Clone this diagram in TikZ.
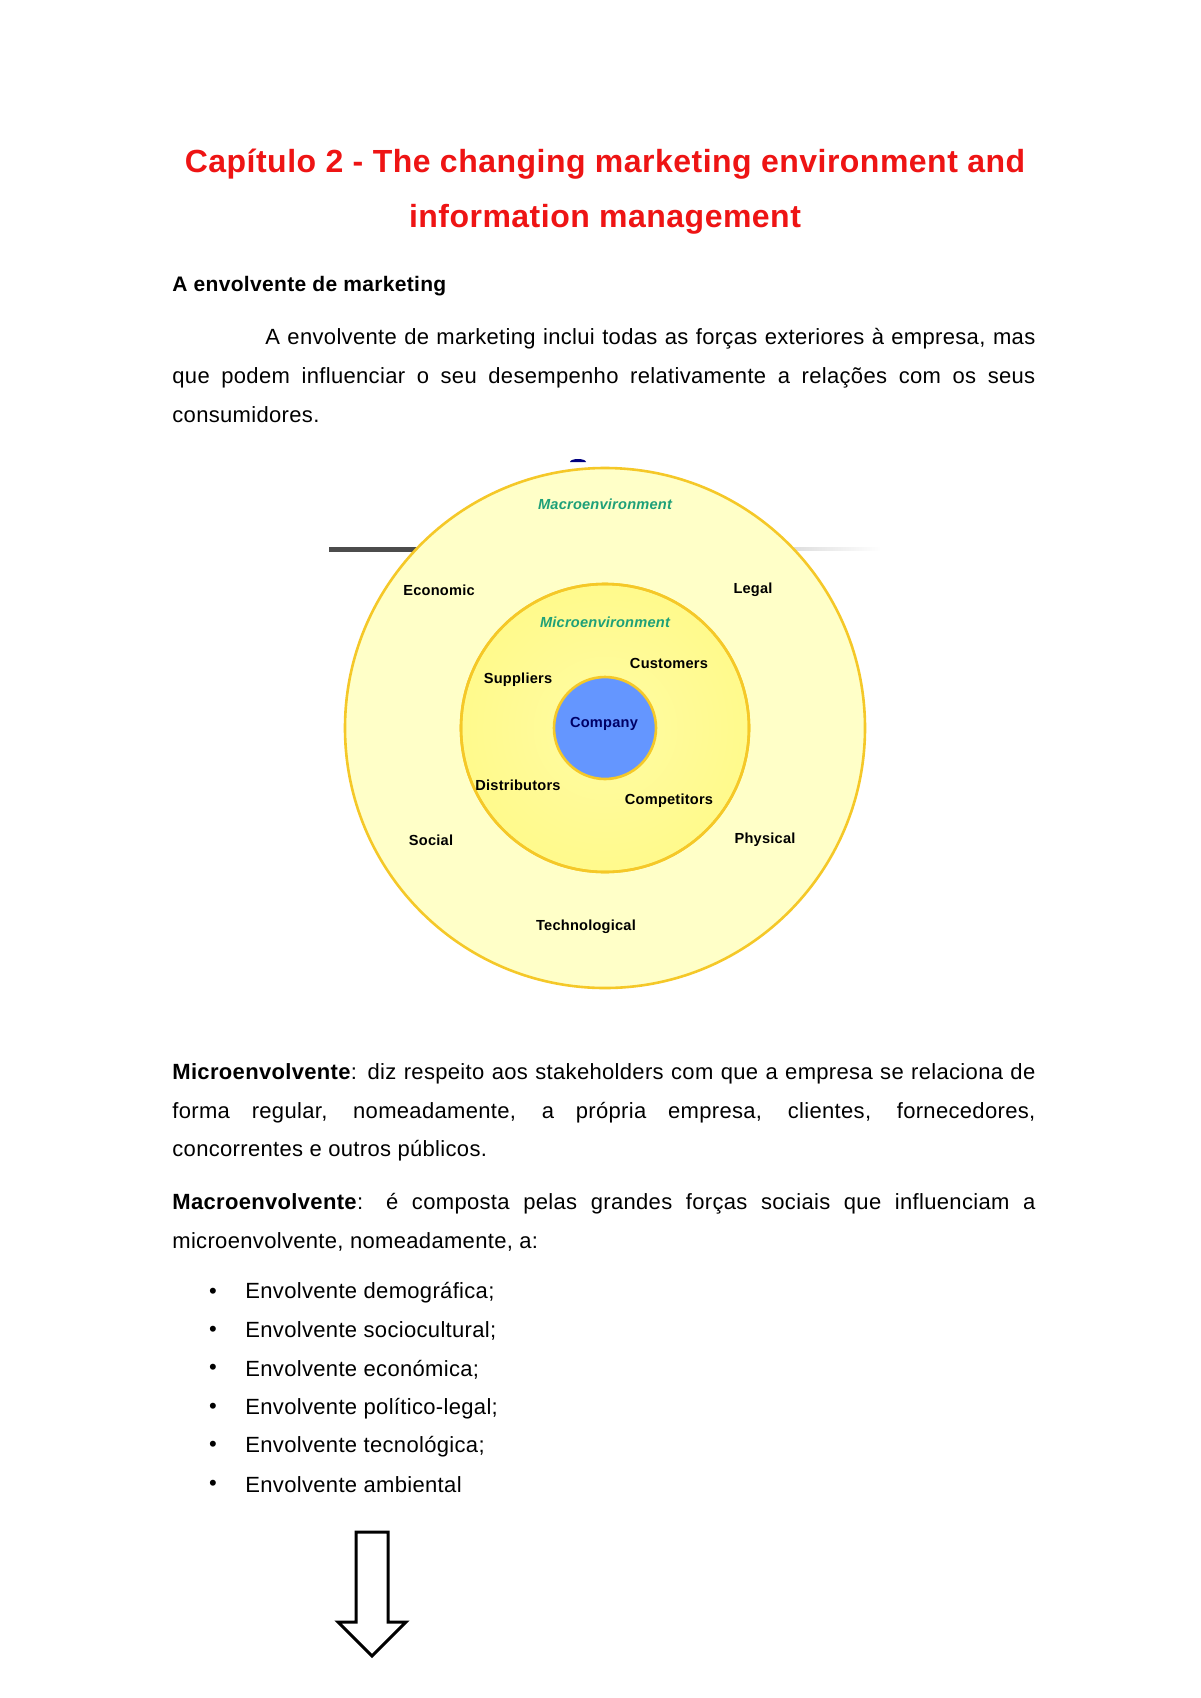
\documentclass[tikz,border=0pt]{standalone}
\usepackage{fontspec}
\setmainfont{Liberation Sans}[LetterSpace=1.5]
\usetikzlibrary{shadings}
\definecolor{titred}{RGB}{238,20,20}
\definecolor{ring}{RGB}{245,200,40}
\definecolor{outerf}{RGB}{255,255,200}
\definecolor{innerf}{RGB}{255,250,140}
\definecolor{comp}{RGB}{100,150,255}
\definecolor{envgreen}{RGB}{30,160,120}
\hyphenpenalty=10000
\exhyphenpenalty=10000
\begin{document}
\begin{tikzpicture}[x=0.5pt,y=-0.5pt,
  body/.style={anchor=north west,inner sep=0pt,font=\fontsize{11}{19.4}\selectfont,align=justify,text width=431.5pt},
  lab/.style={font=\fontsize{7.3}{9}\selectfont\bfseries},
  envlab/.style={font=\fontsize{7.3}{9}\selectfont\bfseries\itshape,text=envgreen}]
\useasboundingbox (0,0) rectangle (1200,1698);
\fill[white] (0,0) rectangle (1200,1698);
\node[font=\fontsize{16}{20}\selectfont\bfseries,text=titred] (t1) at (605,164) {Capítulo 2 - The changing marketing environment and};
\node[font=\fontsize{16}{20}\selectfont\bfseries,text=titred] (t2) at (605,219) {information management};
\node[anchor=west,inner sep=0pt,font=\fontsize{10.5}{14}\selectfont\bfseries] (h) at (172,286) {A envolvente de marketing};
\node[body] (p1) at (172,328) {\hspace*{46.5pt}A envolvente de marketing inclui todas as forças exteriores à empresa, mas\linebreak que podem influenciar o seu desempenho relativamente a relações com os seus\linebreak consumidores.};
% diagram
\draw[line width=2.5pt,black!70] (329,549) -- (420,549);
\shade[left color=black!15,right color=white] (780,547.5) rectangle (881,550.5);
\fill[blue!50!black] (570,462) arc (180:360:8 and 3) -- cycle;
\filldraw[fill=outerf,draw=ring,line width=1.3pt] (605,728) circle[radius=130pt];
\shade[inner color=innerf!80!white,outer color=innerf,draw=ring,line width=1.3pt] (605,728) circle[radius=72pt];
\draw[ring,line width=1.3pt] (605,728) circle[radius=72pt];
\filldraw[fill=comp,draw=ring,line width=1.3pt] (605,728) circle[radius=25.5pt];
\node[envlab] (ma) at (605,504) {Macroenvironment};
\node[envlab] (mi) at (605,622) {Microenvironment};
\node[lab,text=blue!40!black] (co) at (604,724) {Company};
\node[lab] (ec) at (439,590) {Economic};
\node[lab] (le) at (753,590) {Legal};
\node[lab] (su) at (518,680) {Suppliers};
\node[lab] (cu) at (669,663) {Customers};
\node[lab] (di) at (518,785) {Distributors};
\node[lab] (cp) at (669,801) {Competitors};
\node[lab] (so) at (431,840) {Social};
\node[lab] (ph) at (765,840) {Physical};
\node[lab] (te) at (586,927) {Technological};
% text
\node[body] (p2) at (172,1063) {\textbf{Microenvolvente}: diz respeito aos stakeholders com que a empresa se relaciona de\linebreak forma regular, nomeadamente, a própria empresa, clientes, fornecedores,\linebreak concorrentes e outros públicos.};
\node[body] (p3) at (172,1193) {\textbf{Macroenvolvente}: é composta pelas grandes forças sociais que influenciam a\linebreak microenvolvente, nomeadamente, a:};
\foreach \t [count=\i] in {Envolvente demográfica;,Envolvente sociocultural;,Envolvente económica;,Envolvente político-legal;,Envolvente tecnológica;,Envolvente ambiental}{
  \node[font=\fontsize{11}{14}\selectfont] (b\i) at (213,{1293+38.4*(\i-1)}) {\textbullet};
  \node[anchor=west,inner sep=0pt,font=\fontsize{11}{14}\selectfont] (bt\i) at (245,{1293+38.4*(\i-1)}) {\t};
}
\draw[line width=1.5pt,fill=white,line join=miter] (356,1532) -- (388,1532) -- (388,1622) -- (406,1622) -- (372,1656) -- (338,1622) -- (356,1622) -- cycle;
\end{tikzpicture}
\end{document}
